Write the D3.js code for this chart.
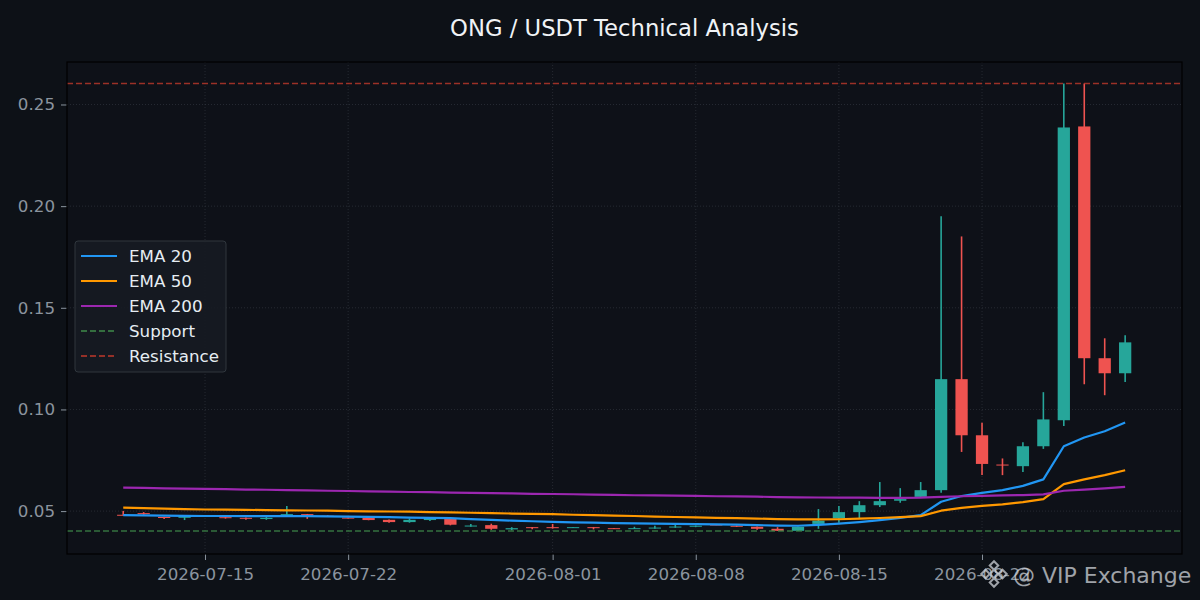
<!DOCTYPE html>
<html>
<head>
<meta charset="utf-8">
<script src="https://cdn.jsdelivr.net/npm/d3@7"></script>
<style>
  html, body { margin: 0; padding: 0; background: #0d1117; }
  svg { display: block; font-family: "DejaVu Sans", sans-serif; }
</style>
</head>
<body>
<svg class="chart"></svg>
<script>
// daily candles
const dates = [
  "2026-07-11","2026-07-12","2026-07-13","2026-07-14","2026-07-15","2026-07-16","2026-07-17","2026-07-18","2026-07-19","2026-07-20",
  "2026-07-21","2026-07-22","2026-07-23","2026-07-24","2026-07-25","2026-07-26","2026-07-27","2026-07-28","2026-07-29","2026-07-30",
  "2026-07-31","2026-08-01","2026-08-02","2026-08-03","2026-08-04","2026-08-05","2026-08-06","2026-08-07","2026-08-08","2026-08-09",
  "2026-08-10","2026-08-11","2026-08-12","2026-08-13","2026-08-14","2026-08-15","2026-08-16","2026-08-17","2026-08-18","2026-08-19",
  "2026-08-20","2026-08-21","2026-08-22","2026-08-23","2026-08-24","2026-08-25","2026-08-26","2026-08-27","2026-08-28","2026-08-29"
];
const open = [
  .0482,.0490,.0471,.0467,.0475,.0470,.0467,.0461,.0475,.0485,
  .0477,.0468,.0467,.0457,.0446,.0456,.0461,.0428,.0431,.0410,
  .0421,.0421,.0419,.0421,.0416,.0413,.0418,.0423,.0423,.0434,
  .0428,.0423,.0413,.0403,.0437,.0464,.0495,.0529,.0551,.0570,
  .0603,.1149,.0873,.0729,.0721,.0819,.0947,.2392,.1252,.1178
];
const high = [
  .0501,.0495,.0472,.0475,.0478,.0471,.0468,.0475,.0525,.0486,
  .0479,.0469,.0468,.0459,.0464,.0469,.0463,.0436,.0438,.0421,
  .0422,.0437,.0422,.0422,.0417,.0423,.0428,.0433,.0429,.0436,
  .0429,.0424,.0421,.0424,.0510,.0525,.0549,.0643,.0613,.0643,
  .1950,.1851,.0934,.0759,.0839,.1085,.2603,.2603,.1350,.1365
];
const low = [
  .0479,.0482,.0461,.0456,.0473,.0463,.0457,.0457,.0472,.0462,
  .0474,.0464,.0455,.0443,.0443,.0451,.0430,.0423,.0408,.0406,
  .0411,.0414,.0418,.0410,.0412,.0412,.0413,.0418,.0422,.0431,
  .0422,.0408,.0402,.0402,.0413,.0443,.0466,.0520,.0541,.0568,
  .0590,.0791,.0677,.0677,.0692,.0806,.0919,.1124,.1070,.1135
];
const close = [
  .0480,.0488,.0466,.0474,.0476,.0466,.0462,.0467,.0485,.0479,
  .0476,.0465,.0456,.0446,.0457,.0467,.0433,.0429,.0413,.0416,
  .0416,.0416,.0421,.0416,.0413,.0416,.0419,.0424,.0428,.0433,
  .0423,.0413,.0403,.0423,.0453,.0495,.0529,.0549,.0559,.0603,
  .1149,.0873,.0732,.0726,.0819,.0951,.2387,.1252,.1178,.1330
];
const ema20 = [
  .0480,.0479,.0478,.0477,.0476,.0476,.0475,.0475,.0475,.0475,
  .0474,.0473,.0472,.0470,.0468,.0467,.0465,.0461,.0457,.0453,
  .0450,.0447,.0445,.0443,.0441,.0440,.0438,.0437,.0436,.0435,
  .0433,.0431,.0429,.0428,.0432,.0438,.0446,.0456,.0467,.0480,
  .0546,.0574,.0590,.0603,.0624,.0656,.0819,.0862,.0893,.0936
];
const ema50 = [
  .0517,.0515,.0512,.0510,.0508,.0507,.0506,.0505,.0504,.0503,
  .0502,.0500,.0499,.0498,.0497,.0495,.0494,.0492,.0490,.0488,
  .0486,.0485,.0482,.0480,.0478,.0476,.0473,.0471,.0469,.0467,
  .0465,.0463,.0461,.0459,.0459,.0460,.0463,.0466,.0470,.0475,
  .0502,.0516,.0526,.0533,.0544,.0559,.0633,.0656,.0677,.0701
];
const ema200 = [
  .0615,.0614,.0612,.0611,.0609,.0608,.0606,.0605,.0603,.0602,
  .0600,.0599,.0597,.0596,.0594,.0593,.0591,.0590,.0588,.0587,
  .0585,.0584,.0583,.0581,.0580,.0578,.0577,.0576,.0575,.0573,
  .0572,.0571,.0569,.0568,.0567,.0566,.0566,.0565,.0565,.0566,
  .0570,.0573,.0575,.0577,.0579,.0582,.0600,.0606,.0612,.0619
];
const support = 0.0402;
const resistance = 0.2603;
const yTicks = [0.05, 0.10, 0.15, 0.20, 0.25];
const xTicks = ["2026-07-15", "2026-07-22", "2026-08-01", "2026-08-08", "2026-08-15", "2026-08-22"];
const legendItems = ["EMA 20", "EMA 50", "EMA 200", "Support", "Resistance"];

const W = 1200, H = 600;
const margin = {top: 62, right: 18, bottom: 46, left: 67};
const pw = W - margin.left - margin.right;
const ph = H - margin.top - margin.bottom;
const DAY = 864e5;

const parse = d3.utcParse("%Y-%m-%d");
const days = dates.map(parse);

const svg = d3.select(".chart").attr("width", W).attr("height", H);
svg.append("rect").attr("width", W).attr("height", H).attr("fill", "#0d1117");

// title sits over the axes area, not the whole figure
svg.append("text")
  .attr("x", margin.left + pw / 2).attr("y", 36)
  .attr("text-anchor", "middle")
  .attr("fill", "#f0f3f6")
  .style("font-size", "22.7px")
  .text("ONG / USDT Technical Analysis");

const chart = svg.append("g").attr("transform", "translate(" + margin.left + "," + margin.top + ")");

// padded a bit past the first/last candle like matplotlib margins
const x = d3.scaleUtc()
  .domain([+days[0] - 2.75 * DAY, +days[days.length - 1] + 2.78 * DAY])
  .range([0, pw]);
const y = d3.scaleLinear()
  .domain([0.0289, 0.2709])
  .range([ph, 0]);

chart.append("rect").attr("width", pw).attr("height", ph).attr("fill", "#0e1118");

// grid
chart.append("g").selectAll("line").data(yTicks).enter().append("line")
  .attr("x1", 0).attr("x2", pw)
  .attr("y1", d => y(d)).attr("y2", d => y(d))
  .attr("stroke", "#3a3f47").attr("stroke-width", 0.8).attr("stroke-dasharray", "1,2").attr("opacity", 0.7);
chart.append("g").selectAll("line").data(xTicks.map(parse)).enter().append("line")
  .attr("x1", d => x(d)).attr("x2", d => x(d))
  .attr("y1", 0).attr("y2", ph)
  .attr("stroke", "#3a3f47").attr("stroke-width", 0.8).attr("stroke-dasharray", "1,2").attr("opacity", 0.7);

// axes
const yAxis = d3.axisLeft(y).tickValues(yTicks).tickFormat(d3.format(".2f")).tickSize(6).tickPadding(6);
const xAxis = d3.axisBottom(x).tickValues(xTicks.map(parse)).tickFormat(d3.utcFormat("%Y-%m-%d")).tickSize(6).tickPadding(5);

const yg = chart.append("g").call(yAxis);
const xg = chart.append("g").attr("transform", "translate(0," + ph + ")").call(xAxis);
[yg, xg].forEach(g => {
  g.select(".domain").remove();
  g.selectAll("line").attr("stroke", "#8b949e").attr("stroke-width", 1);
  g.selectAll("text").attr("fill", "#8b949e").style("font-size", "16.7px").style("font-family", "DejaVu Sans");
});
xg.selectAll("text").attr("dy", "0.9em");

// candles
const bw = x(+days[0] + 0.3 * DAY) - x(+days[0] - 0.3 * DAY);
const up = "#26a69a", down = "#ef5350";
const candle = chart.selectAll(".candle")
  .data(days)
  .enter().append("g")
  .attr("class", "candle");

candle.append("line")
  .attr("x1", d => x(d)).attr("x2", d => x(d))
  .attr("y1", (d, i) => y(high[i])).attr("y2", (d, i) => y(low[i]))
  .attr("stroke", (d, i) => close[i] >= open[i] ? up : down)
  .attr("stroke-width", 1.6);

candle.append("rect")
  .attr("x", d => x(d) - bw / 2)
  .attr("width", bw)
  .attr("y", (d, i) => y(Math.max(open[i], close[i])))
  .attr("height", (d, i) => Math.max(1, Math.abs(y(open[i]) - y(close[i]))))
  .attr("fill", (d, i) => close[i] >= open[i] ? up : down);

// moving averages
const emaLine = vals => d3.line().x((d, i) => x(days[i])).y(d => y(d))(vals);
const emas = [[ema20, "#2196f3"], [ema50, "#ff9800"], [ema200, "#9c27b0"]];
emas.forEach(e => {
  chart.append("path")
    .attr("d", emaLine(e[0]))
    .attr("fill", "none")
    .attr("stroke", e[1])
    .attr("stroke-width", 2.2)
    .attr("stroke-linejoin", "round");
});

// support / resistance
chart.append("line")
  .attr("x1", 0).attr("x2", pw).attr("y1", y(support)).attr("y2", y(support))
  .attr("stroke", "#3f8a4a").attr("stroke-width", 1.6).attr("stroke-dasharray", "6,3").attr("opacity", 0.8);
chart.append("line")
  .attr("x1", 0).attr("x2", pw).attr("y1", y(resistance)).attr("y2", y(resistance))
  .attr("stroke", "#c0392b").attr("stroke-width", 1.6).attr("stroke-dasharray", "6,3").attr("opacity", 0.8);

// frame
chart.append("rect").attr("width", pw).attr("height", ph)
  .attr("fill", "none").attr("stroke", "#000").attr("stroke-width", 1.2);

// legend
const legendColors = ["#2196f3", "#ff9800", "#9c27b0", "#3f8a4a", "#c0392b"];
const legend = svg.append("g").attr("transform", "translate(75,241)");
legend.append("rect")
  .attr("width", 151).attr("height", 131).attr("rx", 3)
  .attr("fill", "#161b22").attr("fill-opacity", 0.9)
  .attr("stroke", "#30363d").attr("stroke-width", 1);
const row = legend.selectAll(".row").data(legendItems).enter().append("g")
  .attr("transform", (d, i) => "translate(0," + (15 + i * 25) + ")");
row.append("line")
  .attr("x1", 6).attr("x2", 42)
  .attr("stroke", (d, i) => legendColors[i])
  .attr("stroke-width", (d, i) => i < 3 ? 2.2 : 1.6)
  .attr("stroke-dasharray", (d, i) => i < 3 ? null : "6,3");
row.append("text")
  .attr("x", 54).attr("dy", "0.35em")
  .attr("fill", "#e6edf3")
  .style("font-size", "16.7px")
  .text(d => d);

// watermark, lies over the last date label as in the source
const wm = svg.append("g").attr("opacity", 0.75);
const logo = wm.append("g").attr("transform", "translate(994,574) rotate(45)").attr("fill", "none").attr("stroke", "#d0d4da").attr("stroke-width", 2);
logo.append("rect").attr("x", -3).attr("y", -3).attr("width", 6).attr("height", 6);
[[-9, -9], [3, -9], [-9, 3], [3, 3]].forEach(p => {
  logo.append("rect").attr("x", p[0]).attr("y", p[1]).attr("width", 6).attr("height", 6);
});
wm.append("text")
  .attr("x", 1013).attr("y", 583)
  .attr("fill", "#d0d4da")
  .style("font-size", "22px")
  .text("@ VIP Exchange");
</script>
</body>
</html>
